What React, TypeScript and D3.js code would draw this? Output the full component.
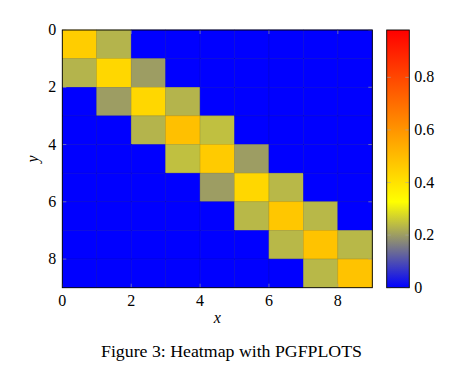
import React from "react";
import * as d3 from "d3";

const N = 9;
const diagonal = [0.455, 0.43, 0.43, 0.49, 0.46, 0.43, 0.47, 0.48, 0.48];
const offDiagonal = [0.23, 0.2, 0.23, 0.245, 0.2, 0.235, 0.235, 0.235];
const xTicks = [0, 2, 4, 6, 8];
const yTicks = [0, 2, 4, 6, 8];
const cbTicks = [0, 0.2, 0.4, 0.6, 0.8];
const cbMax = 0.98;
const cmapColors = ["#0000ff", "#808080", "#ffff00", "#ff8000", "#ff0000"];
const cmapPos = [0, 1 / 6, 2 / 6, 4 / 6, 1];

function valueAt(i: number, j: number): number {
  if (i === j) return diagonal[i];
  if (Math.abs(i - j) === 1) return offDiagonal[Math.min(i, j)];
  return 0;
}

export default function App() {
  const W = 462, H = 369;
  const x = d3.scaleLinear().domain([0, N]).range([62.3, 372.3]);
  const y = d3.scaleLinear().domain([0, N]).range([30, 287.7]);
  const color = d3
    .scaleLinear<string>()
    .domain(cmapPos.map((p) => p * cbMax))
    .range(cmapColors)
    .interpolate(d3.interpolateRgb)
    .clamp(true);
  const cbX0 = 386.7, cbX1 = 409.3;
  const cbY = d3.scaleLinear().domain([0, cbMax]).range([287.7, 30]);

  const cells: { i: number; j: number; v: number }[] = [];
  for (let r = 0; r < N; r++) for (let c = 0; c < N; c++) cells.push({ i: c, j: r, v: valueAt(r, c) });

  const fs: React.CSSProperties = { fontFamily: '"Liberation Serif", "DejaVu Serif", serif' };
  const tickColor = "#a8a8a8";
  const tl = 4;

  return (
    <svg width={W} height={H} style={{ position: "absolute", left: 0, top: 0, background: "#fff" }}>
      <defs>
        <linearGradient id="cb" x1="0" y1="1" x2="0" y2="0">
          {cmapPos.map((p, k) => (
            <stop key={k} offset={p} stopColor={cmapColors[k]} />
          ))}
        </linearGradient>
      </defs>
      {cells.map((d) => {
        const fill = color(d.v);
        const c = d3.rgb(fill);
        const edge = d3.rgb(c.r * 0.8, c.g * 0.8, c.b * 0.8).toString();
        return (
          <rect
            key={`${d.i}-${d.j}`}
            x={x(d.i)}
            y={y(d.j)}
            width={x(d.i + 1) - x(d.i)}
            height={y(d.j + 1) - y(d.j)}
            fill={fill}
            stroke={edge}
            strokeWidth={0.5}
          />
        );
      })}
      {xTicks.map((t) => (
        <g key={"xt" + t}>
          <line x1={x(t)} x2={x(t)} y1={y(N)} y2={y(N) - tl} stroke={tickColor} strokeWidth={0.6} />
          <line x1={x(t)} x2={x(t)} y1={y(0)} y2={y(0) + tl} stroke={tickColor} strokeWidth={0.6} />
          <text x={x(t)} y={y(N) + 18} textAnchor="middle" style={fs} fontSize={16}>
            {t}
          </text>
        </g>
      ))}
      {yTicks.map((t) => (
        <g key={"yt" + t}>
          <line x1={x(0)} x2={x(0) + tl} y1={y(t)} y2={y(t)} stroke={tickColor} strokeWidth={0.6} />
          <line x1={x(N)} x2={x(N) - tl} y1={y(t)} y2={y(t)} stroke={tickColor} strokeWidth={0.6} />
          <text x={x(0) - 6} y={y(t) + 5} textAnchor="end" style={fs} fontSize={16}>
            {t}
          </text>
        </g>
      ))}
      <rect x={x(0)} y={y(0)} width={x(N) - x(0)} height={y(N) - y(0)} fill="none" stroke="#000" strokeWidth={0.9} />
      <text x={(x(0) + x(N)) / 2} y={323} textAnchor="middle" style={fs} fontStyle="italic" fontSize={16}>
        x
      </text>
      <text
        transform={`translate(38, ${(y(0) + y(N)) / 2}) rotate(-90)`}
        textAnchor="middle"
        style={fs}
        fontStyle="italic"
        fontSize={16}
      >
        y
      </text>
      <rect x={cbX0} y={cbY(cbMax)} width={cbX1 - cbX0} height={cbY(0) - cbY(cbMax)} fill="url(#cb)" />
      {cbTicks.map((t) => (
        <g key={"cb" + t}>
          <line x1={cbX0} x2={cbX0 + tl} y1={cbY(t)} y2={cbY(t)} stroke={tickColor} strokeWidth={0.6} />
          <line x1={cbX1} x2={cbX1 - tl} y1={cbY(t)} y2={cbY(t)} stroke={tickColor} strokeWidth={0.6} />
          <text x={cbX1 + 5} y={cbY(t) + 5} style={fs} fontSize={16}>
            {t}
          </text>
        </g>
      ))}
      <rect x={cbX0} y={cbY(cbMax)} width={cbX1 - cbX0} height={cbY(0) - cbY(cbMax)} fill="none" stroke="#000" strokeWidth={0.9} />
      <text x={231.5} y={357} textAnchor="middle" style={fs} fontSize={16} textLength={261} lengthAdjust="spacingAndGlyphs">
        Figure 3: Heatmap with PGFPLOTS
      </text>
    </svg>
  );
}
